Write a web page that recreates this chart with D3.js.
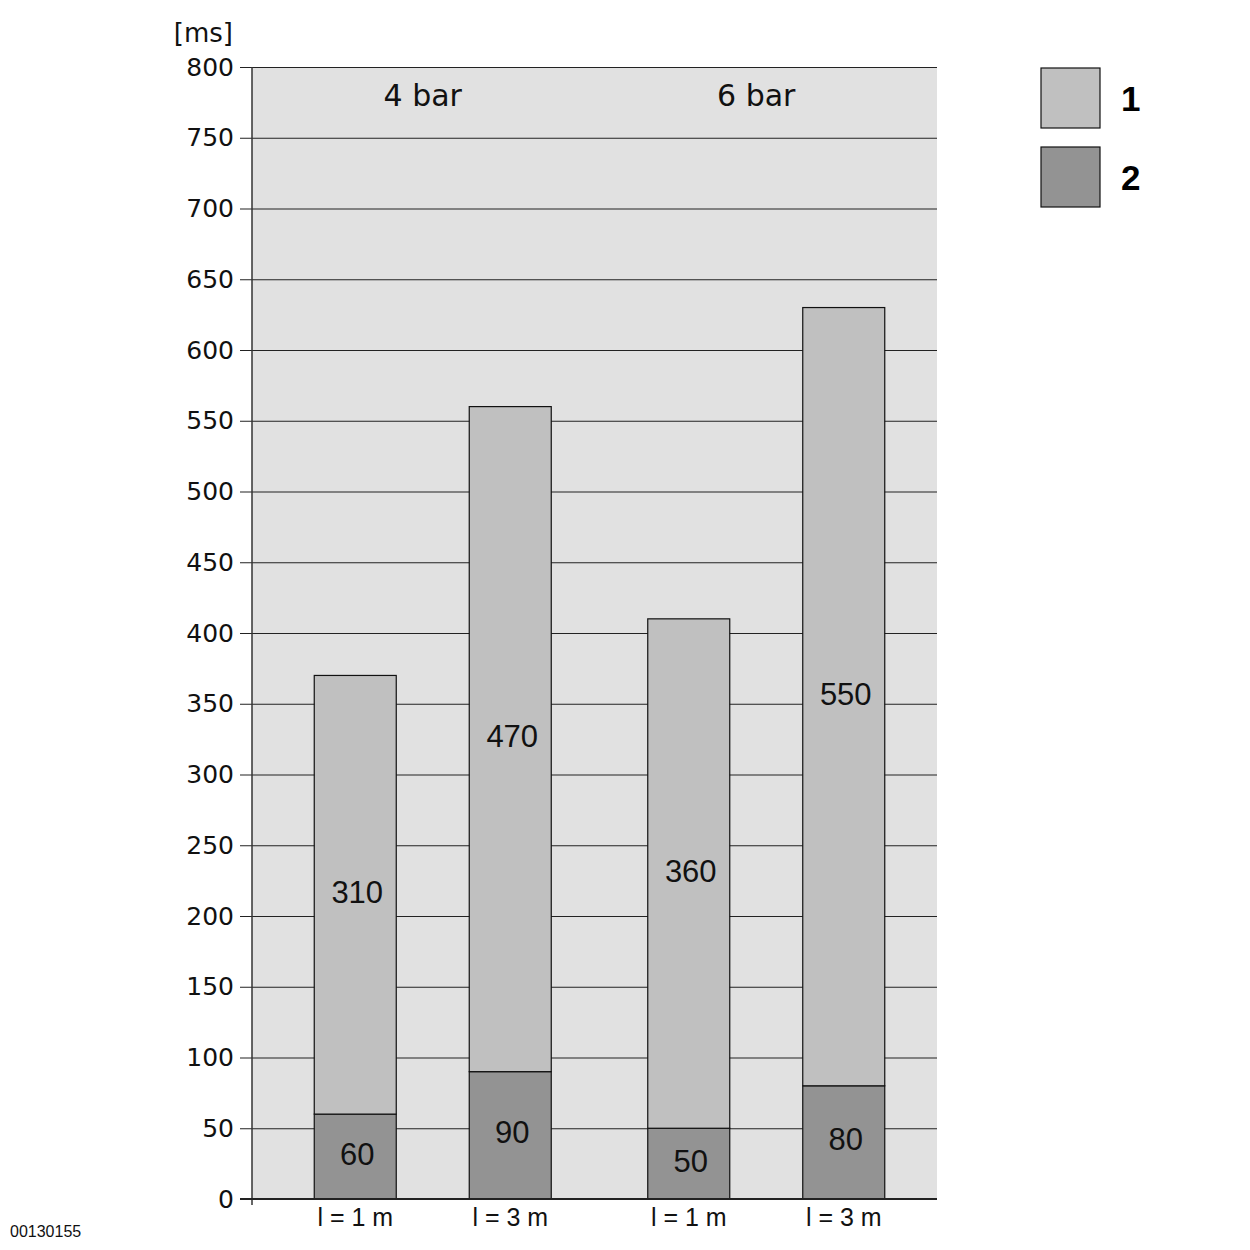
<!DOCTYPE html>
<html>
<head>
<meta charset="utf-8">
<script src="https://cdn.jsdelivr.net/npm/d3@7"></script>
<style>
  body { margin: 0; background: #fff; }
</style>
</head>
<body>
<script>
// data
var groups = ["4 bar", "6 bar"];
var lengths = ["1 m", "3 m"];
var part2 = [60, 90, 50, 80];      // dark, bottom
var part1 = [310, 470, 360, 550];  // light, on top
var yTicks = d3.range(0, 801, 50);
var legendKeys = ["1", "2"];

var W = 1250, H = 1250;
var pLeft = 252, pRight = 937, pTop = 67, pBottom = 1199;

var svg = d3.select("body").append("svg")
  .attr("width", W).attr("height", H);

var xg = d3.scaleBand().domain(groups).range([266, 933]);
var xl = d3.scalePoint().domain(lengths).range([-77.5, 77.5]);
var bw = 82;
var y = d3.scaleLinear().domain([0, 800]).range([pBottom, pTop]);
var color = d3.scaleOrdinal().domain(legendKeys).range(["#c0c0c0", "#939393"]);

// plot background
svg.append("rect")
  .attr("x", pLeft).attr("y", pTop)
  .attr("width", pRight - pLeft).attr("height", pBottom - pTop)
  .attr("fill", "#e1e1e1");

// gridlines + ticks
var yAxis = d3.axisLeft(y).tickValues(yTicks)
  .tickSize(-(pRight - pLeft)).tickSizeOuter(0);
var ga = svg.append("g").attr("transform", "translate(" + pLeft + ",0)").call(yAxis);
ga.select(".domain").remove();
ga.selectAll(".tick line").attr("stroke", "#222").attr("stroke-width", 1.2)
  .attr("x1", -12);
ga.selectAll(".tick text")
  .attr("x", -18)
  .style("font-family", "'DejaVu Sans', sans-serif")
  .style("font-size", "25px")
  .attr("fill", "#111");

// y axis line
svg.append("line")
  .attr("x1", pLeft).attr("x2", pLeft)
  .attr("y1", pTop).attr("y2", pBottom + 6)
  .attr("stroke", "#333").attr("stroke-width", 1.5);
// unit
svg.append("text")
  .attr("x", 233).attr("y", 42)
  .attr("text-anchor", "end")
  .style("font-family", "'DejaVu Sans', sans-serif")
  .style("font-size", "26px")
  .attr("fill", "#111")
  .text("[ms]");

// bars
var gb = svg.append("g");
var i = 0;
groups.forEach(function(g) {
  lengths.forEach(function(l) {
    var cx = xg(g) + xg.bandwidth() / 2 + xl(l);
    var segs = [
      {key: "2", y0: 0, y1: part2[i], v: part2[i]},
      {key: "1", y0: part2[i], y1: part2[i] + part1[i], v: part1[i]}
    ];
    segs.forEach(function(s) {
      gb.append("rect")
        .attr("x", cx - bw / 2).attr("width", bw)
        .attr("y", y(s.y1)).attr("height", y(s.y0) - y(s.y1))
        .attr("fill", color(s.key))
        .attr("stroke", "#111").attr("stroke-width", 1.2);
      gb.append("text")
        .attr("x", cx + 2)
        .attr("y", (y(s.y0) + y(s.y1)) / 2 + 8)
        .attr("text-anchor", "middle")
        .style("font-family", "'Liberation Sans', Arial, sans-serif")
        .style("font-size", "31px")
        .attr("fill", "#111")
        .text(s.v);
    });
    svg.append("text")
      .attr("x", cx).attr("y", 1226)
      .attr("text-anchor", "middle")
      .style("font-family", "'Liberation Sans', Arial, sans-serif")
      .style("font-size", "25px")
      .attr("fill", "#111")
      .text("l = " + l);
    i++;
  });
});

// x axis line
svg.append("line")
  .attr("x1", 240).attr("x2", pRight)
  .attr("y1", pBottom).attr("y2", pBottom)
  .attr("stroke", "#222").attr("stroke-width", 2);

// group labels
groups.forEach(function(g) {
  svg.append("text")
    .attr("x", xg(g) + xg.bandwidth() / 2 - 10)
    .attr("y", 106)
    .attr("text-anchor", "middle")
    .style("font-family", "'DejaVu Sans', sans-serif")
    .style("font-size", "30px")
    .attr("fill", "#111")
    .text(g);
});

// legend
var lg = svg.selectAll(".legend").data(legendKeys).enter().append("g")
  .attr("class", "legend")
  .attr("transform", function(d, k) { return "translate(1041," + (68 + k * 79) + ")"; });
lg.append("rect")
  .attr("width", 59).attr("height", 60)
  .attr("fill", function(d) { return color(d); })
  .attr("stroke", "#111").attr("stroke-width", 1.2);
lg.append("text")
  .attr("x", 80).attr("y", 43)
  .style("font-family", "'Liberation Sans', Arial, sans-serif")
  .style("font-size", "35px")
  .style("font-weight", "bold")
  .attr("fill", "#000")
  .text(function(d) { return d; });

// figure id
svg.append("text")
  .attr("x", 10).attr("y", 1237)
  .style("font-family", "'Liberation Sans', Arial, sans-serif")
  .style("font-size", "16px")
  .attr("fill", "#111")
  .text("00130155");
</script>
</body>
</html>
